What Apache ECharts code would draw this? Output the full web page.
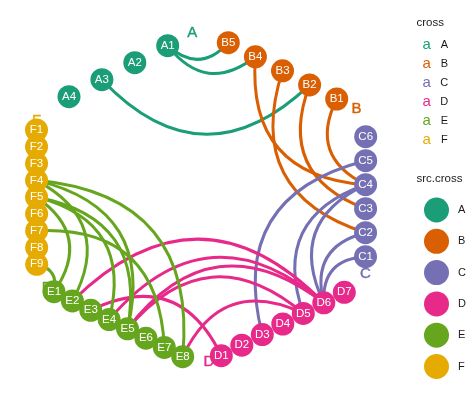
<!DOCTYPE html>
<html><head><meta charset="utf-8">
<script src="https://cdn.jsdelivr.net/npm/echarts@6/dist/echarts.min.js"></script>
<style>html,body{margin:0;padding:0;background:#fff}#c{width:474px;height:395px}</style>
</head><body><div id="c"></div>
<script>
// ---- data ----
const groups = ['A', 'B', 'C', 'D', 'E', 'F'];
const groupSizes = [4, 5, 6, 7, 8, 9];
const edgeSource = ['A1','A1','A3','B1','B2','B3','B4','C5','C4','C4','C2','C1','D6','D6','D6','D5','D5','D1','E1','E1','E2','E4','E5','E5','E7','E8'];
const edgeTarget = ['B5','B4','B2','C4','C3','C2','C4','D3','D5','D6','D6','D6','E2','E4','E5','E5','E8','E3','F9','F5','F4','F5','F4','F5','F7','F4'];
const legendTitle1 = 'cross';
const legendTitle2 = 'src.cross';

// ---- style / layout ----
const colors = ['#1B9E77', '#D95F02', '#7570B3', '#E7298A', '#66A61E', '#E6AB02'];
const FONT = 'Liberation Sans, Arial, sans-serif';
// each group laid out on a straight segment: [first node, last node]
const segments = {
  A: [[167.7, 45.7], [69, 96.7]],
  B: [[336.7, 99], [228.3, 42.7]],
  C: [[365.5, 256.7], [365.7, 136.7]],
  D: [[221.3, 355.7], [344.3, 292.3]],
  E: [[54, 291.7], [182.7, 356.7]],
  F: [[36.5, 130], [36.7, 264.3]]
};
// how far (in node steps) each group label sits before its first node
const labelShift = { A: 0.75, B: 0.73, C: 0.72, D: 0.6, E: 0.4, F: 0.55 };

const pos = {};
const nodes = [];
const groupLabels = [];
groups.forEach((g, gi) => {
  const n = groupSizes[gi];
  const [p0, p1] = segments[g];
  for (let i = 0; i < n; i++) {
    const t = n > 1 ? i / (n - 1) : 0;
    const p = [p0[0] + (p1[0] - p0[0]) * t, p0[1] + (p1[1] - p0[1]) * t];
    pos[g + (i + 1)] = p;
    nodes.push({ name: g + (i + 1), value: p, category: gi });
  }
  const step = [(p1[0] - p0[0]) / (n - 1), (p1[1] - p0[1]) / (n - 1)];
  const k = labelShift[g];
  groupLabels.push({ name: g, value: [p0[0] - k * step[0], p0[1] - k * step[1]], gi });
});
let cx = 0, cy = 0;
nodes.forEach(d => { cx += d.value[0]; cy += d.value[1]; });
cx /= nodes.length; cy /= nodes.length;

const CURV = 0.5;
const links = edgeSource.map((s, i) => {
  const t = edgeTarget[i];
  const a = pos[s], b = pos[t];
  const dx = b[0] - a[0], dy = b[1] - a[1];
  const mx = (a[0] + b[0]) / 2, my = (a[1] + b[1]) / 2;
  const dot = (cx - mx) * dy + (cy - my) * (-dx);
  const c = dot >= 0 ? CURV : -CURV;
  return {
    source: s, target: t,
    lineStyle: { color: colors[groups.indexOf(s[0])], curveness: c }
  };
});

const graphic = [];
graphic.push({ type: 'text', left: 416.5, top: 17, style: { text: legendTitle1, font: '11.5px ' + FONT, fill: '#1a1a1a' } });
groups.forEach((g, i) => {
  graphic.push({ type: 'text', x: 426.7, y: 45 + i * 19, style: { text: 'a', font: '15px ' + FONT, fill: colors[i], align: 'center', verticalAlign: 'middle' } });
  graphic.push({ type: 'text', x: 444.3, y: 45 + i * 19, style: { text: g, font: '11px ' + FONT, fill: '#1a1a1a', align: 'center', verticalAlign: 'middle' } });
});
graphic.push({ type: 'text', left: 416.5, top: 173, style: { text: legendTitle2, font: '11.5px ' + FONT, fill: '#1a1a1a' } });

const chart = echarts.init(document.getElementById('c'), null, { renderer: 'canvas' });
chart.setOption({
  animation: false,
  backgroundColor: '#fff',
  grid: { left: 0, right: 0, top: 0, bottom: 0 },
  xAxis: { type: 'value', min: 0, max: 474, show: false },
  yAxis: { type: 'value', min: 0, max: 395, inverse: true, show: false },
  legend: {
    data: groups, orient: 'vertical', left: 419, top: 192.5,
    icon: 'circle', itemWidth: 25, itemHeight: 25, itemGap: 6.3,
    selectedMode: false,
    textStyle: { fontSize: 11, color: '#1a1a1a', fontFamily: FONT, padding: [0, 0, 0, 4] }
  },
  graphic,
  series: [
    {
      type: 'scatter', z: 1, silent: true,
      symbolSize: 1, itemStyle: { color: 'rgba(0,0,0,0)', opacity: 1 },
      data: groupLabels.map(d => ({
        value: d.value, name: d.name,
        label: { color: colors[d.gi], textBorderColor: colors[d.gi], textBorderWidth: 0.4, opacity: 1 }
      })),
      label: { show: true, position: 'inside', formatter: p => p.name, fontSize: 15, fontFamily: FONT }
    },
    {
      type: 'graph', z: 2, coordinateSystem: 'cartesian2d', layout: 'none',
      symbol: 'circle', symbolSize: 23,
      categories: groups.map((g, i) => ({ name: g, itemStyle: { color: colors[i] } })),
      data: nodes,
      links,
      label: { show: true, position: 'inside', color: '#fff', fontSize: 11.5, fontFamily: FONT },
      lineStyle: { width: 3, opacity: 1 },
      emphasis: { disabled: true }
    }
  ]
});
</script>
</body></html>
